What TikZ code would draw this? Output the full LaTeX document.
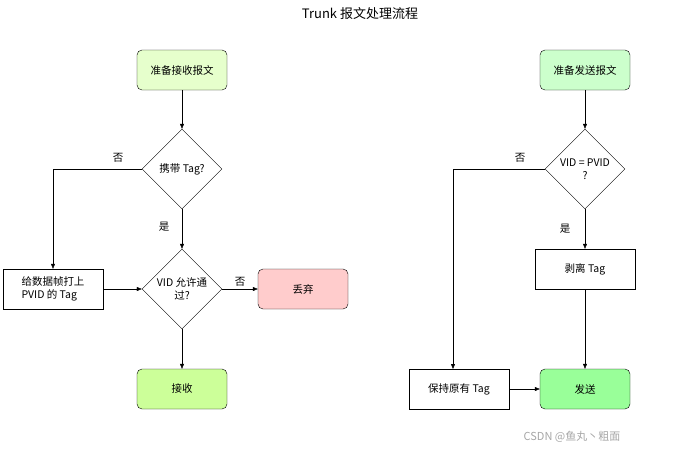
\documentclass[tikz,border=0pt]{standalone}
\usepackage{fontspec}
\setmainfont{Noto Sans CJK SC}
\usetikzlibrary{shapes.geometric,arrows.meta}
\begin{document}
\begin{tikzpicture}[x=1pt,y=-1pt,font=\fontsize{10.5}{13}\selectfont,
 rbox/.style={draw,rounded corners=5pt,minimum width=90pt,minimum height=40pt,align=center},
 sbox/.style={draw,minimum width=100pt,minimum height=40pt,align=center},
 dia/.style={draw,diamond,minimum width=80pt,minimum height=80pt,inner sep=0pt,align=center,aspect=1},
 arr/.style={-{Triangle[length=5pt,width=4pt]}},
 lab/.style={fill=white,inner sep=1pt}]
\useasboundingbox (0,0) rectangle (673,456);
\node at (360,14) {\fontsize{13}{15}\selectfont Trunk 报文处理流程};
\node[rbox,fill={rgb,255:red,230;green,255;blue,204}] (a) at (182,70) {准备接收报文};
\node[dia] (b) at (182,169) {携带 Tag?};
\node[dia] (c) at (182,289) {VID 允许通\\过?};
\node[sbox,align=left] (d) at (53,289) {给数据帧打上\\PVID 的 Tag};
\node[rbox,fill={rgb,255:red,255;green,204;blue,204}] (e) at (303,289) {丢弃};
\node[rbox,fill={rgb,255:red,204;green,255;blue,153}] (f) at (182,389) {接收};
\draw[arr] (a) -- (b);
\draw[arr] (b) -- node[lab,pos=0.45,xshift=-18pt]{是} (c);
\draw[arr] (b.west) -| (d.north);
\node[lab] at (118,158) {否};
\draw[arr] (d) -- (c);
\draw[arr] (c) -- node[lab,above=1pt]{否} (e);
\draw[arr] (c) -- (f);
\node[rbox,fill={rgb,255:red,204;green,255;blue,204}] (g) at (585,70) {准备发送报文};
\node[dia] (h) at (585,169) {VID = PVID\\?};
\node[sbox] (i) at (585,269) {剥离 Tag};
\node[sbox] (j) at (459,389) {保持原有 Tag};
\node[rbox,fill={rgb,255:red,153;green,255;blue,153}] (k) at (585,389) {发送};
\draw[arr] (g) -- (h);
\draw[arr] (h) -- node[lab,pos=0.5,xshift=-20pt]{是} (i);
\coordinate (jt) at (453,369);
\draw[arr] (h.west) -| (jt);
\node[lab] at (520,158) {否};
\draw[arr] (i) -- (k);
\draw[arr] (j) -- (k);
\node[text=gray!70] at (572,437) {\fontsize{11}{13}\selectfont CSDN @鱼丸丶粗面};
\end{tikzpicture}
\end{document}
